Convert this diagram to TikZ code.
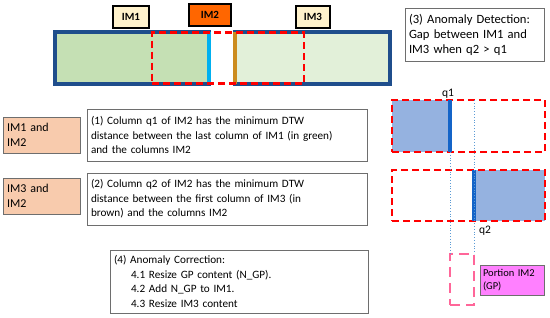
\documentclass[tikz,border=0pt]{standalone}
\usepackage{fontspec}
\setmainfont{Carlito}
\begin{document}
\begin{tikzpicture}[x=1pt,y=-1pt,
  every node/.style={inner sep=0pt, outer sep=0pt},
  lbl/.style={draw=black, line width=2pt, font=\fontsize{11}{12}\selectfont\bfseries, minimum width=36pt, minimum height=22pt},
  barbox/.style={draw=barblue, line width=3.4pt, anchor=north west},
  reddash/.style={draw=red, line width=2.2pt, dash pattern=on 7pt off 4pt, anchor=north west},
  txtbox/.style={draw=boxgray, line width=1pt, fill=white, anchor=north west, align=left, inner sep=4pt, font=\fontsize{11.2}{14.4}\selectfont},
  sidebox/.style={draw=boxgray, line width=1pt, fill=salmon, anchor=north west, align=left, inner sep=4pt, text width=69pt, minimum width=77pt, minimum height=36pt, font=\fontsize{12}{14.4}\selectfont},
  qfill/.style={fill=lightblue, anchor=north west},
  qline/.style={draw=qblue, line width=3.4pt},
  dotline/.style={draw=dotblue, line width=0.8pt, dotted},
]
\definecolor{barblue}{RGB}{31,78,140}
\definecolor{green1}{RGB}{197,224,180}
\definecolor{green2}{RGB}{226,240,217}
\definecolor{cyanline}{RGB}{0,176,240}
\definecolor{brownline}{RGB}{204,140,30}
\definecolor{cream}{RGB}{255,242,204}
\definecolor{im2orange}{RGB}{255,102,0}
\definecolor{salmon}{RGB}{248,203,173}
\definecolor{boxgray}{RGB}{110,110,110}
\definecolor{lightblue}{RGB}{149,178,224}
\definecolor{qblue}{RGB}{20,100,200}
\definecolor{dotblue}{RGB}{91,155,213}
\definecolor{pinkdash}{RGB}{255,102,153}
\definecolor{magentafill}{RGB}{255,128,255}
\useasboundingbox (0,0) rectangle (550,317);

% top bar
\node[barbox, fill=green1, minimum width=154pt, minimum height=52pt] (im1bar) at (55,32) {};
\draw[cyanline, line width=3.4pt] (im1bar.north east) -- (im1bar.south east);
\node[barbox, fill=green2, minimum width=155pt, minimum height=52pt] (im3bar) at (235,32) {};
\draw[brownline, line width=3.4pt] (im3bar.north west) -- (im3bar.south west);
\node[reddash, minimum width=152pt, minimum height=51pt] (im2win) at (152,32.5) {};

% labels
\node[lbl, fill=cream] (im1lab) at (131,17) {IM1};
\node[lbl, fill=im2orange, minimum width=42pt] (im2lab) at (210,15) {IM2};
\node[lbl, fill=cream, minimum width=34pt] (im3lab) at (313,16.5) {IM3};

% detection box
\node[txtbox, text width=131pt, minimum height=53pt, font=\fontsize{12.6}{15}\selectfont] (det) at (405,8)
  {(3) Anomaly Detection:\\Gap between IM1 and\\IM3 when q2 > q1};

% side labels
\node[sidebox] (s1) at (3,117) {IM1 and\\IM2};
\node[sidebox] (s2) at (3,178) {IM3 and\\IM2};

% text boxes
\node[txtbox, text width=272pt, minimum height=52pt] (t1) at (87,109)
  {(1) Column q1 of IM2 has the minimum DTW\\distance between the last column of IM1 (in green)\\and the columns IM2};
\node[txtbox, text width=272pt, minimum height=52pt] (t2) at (87,173)
  {(2) Column q2 of IM2 has the minimum DTW\\distance between the first column of IM3 (in\\brown) and the columns IM2};
\node[txtbox, text width=250pt, minimum height=63pt] (t4) at (110,250)
  {(4) Anomaly Correction:\\\hspace*{17pt}4.1 Resize GP content (N\_GP).\\\hspace*{17pt}4.2 Add N\_GP to IM1.\\\hspace*{17pt}4.3 Resize IM3 content};

% right: upper
\node[qfill, minimum width=58pt, minimum height=52pt] (topfill) at (392,100) {};
\node[reddash, minimum width=153pt, minimum height=52pt] (top) at (392,100) {};
\draw[qline] (topfill.north east) -- (topfill.south east);
\node[anchor=south, font=\fontsize{11.5}{13}\selectfont] (q1) at ([xshift=-2pt,yshift=2pt]topfill.north east) {q1};

% right: lower
\node[qfill, minimum width=71pt, minimum height=51pt] (botfill) at (474,170) {};
\node[reddash, minimum width=153pt, minimum height=51pt] (bot) at (392,170) {};
\draw[qline] (botfill.north west) -- (botfill.south west);
\node[anchor=north west, font=\fontsize{11.5}{13}\selectfont] (q2) at ([xshift=5pt,yshift=-5pt]botfill.south west) {q2};

% GP portion
\node[draw=pinkdash, line width=2.4pt, dash pattern=on 10pt off 6pt, anchor=north west, minimum width=24pt, minimum height=51pt] (gp) at (450,254) {};
\draw[dotline] (topfill.south east) -- (gp.north west);
\draw[dotline] (botfill.north west |- top.north) -- (gp.north east);

\node[draw=boxgray, line width=1pt, fill=magentafill, anchor=north west, align=left, inner sep=3pt, text width=58pt, minimum width=64pt, minimum height=30pt, font=\fontsize{10.5}{13}\selectfont] (portion) at (480,265) {Portion IM2\\(GP)};
\end{tikzpicture}
\end{document}
